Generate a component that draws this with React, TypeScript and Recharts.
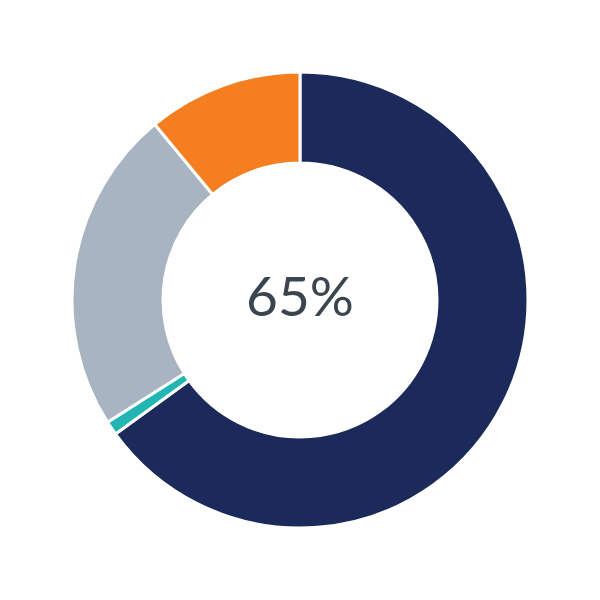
import React from "react"
import { PieChart, Pie, Cell, Label } from "recharts"

const names = ["Navy", "Teal", "Gray", "Orange"]
const values = [65, 1, 23, 11]
const colors = ["#1b2a5a", "#21b6b4", "#a9b4c2", "#f47e20"]
const centerLabel = "65%"

const data = names.map((name, i) => ({ name, value: values[i] }))

export default function App() {
  return (
    <div style={{ position: "absolute", left: 0, top: 0, width: 600, height: 600, background: "#fff" }}>
      <PieChart width={600} height={600} margin={{ top: 0, right: 0, bottom: 0, left: 0 }}>
        <Pie
          data={data}
          dataKey="value"
          nameKey="name"
          cx={300}
          cy={300}
          innerRadius={137}
          outerRadius={228}
          startAngle={90}
          endAngle={-270}
          stroke="#ffffff"
          strokeWidth={3}
          isAnimationActive={false}
        >
          {data.map((d, i) => (
            <Cell key={d.name} fill={colors[i]} />
          ))}
          <Label
            value={centerLabel}
            position="center"
            dy={-4}
            fill="#3b4550"
            fontSize={55}
            fontFamily="Lato"
            fontWeight={400}
          />
        </Pie>
      </PieChart>
    </div>
  )
}
